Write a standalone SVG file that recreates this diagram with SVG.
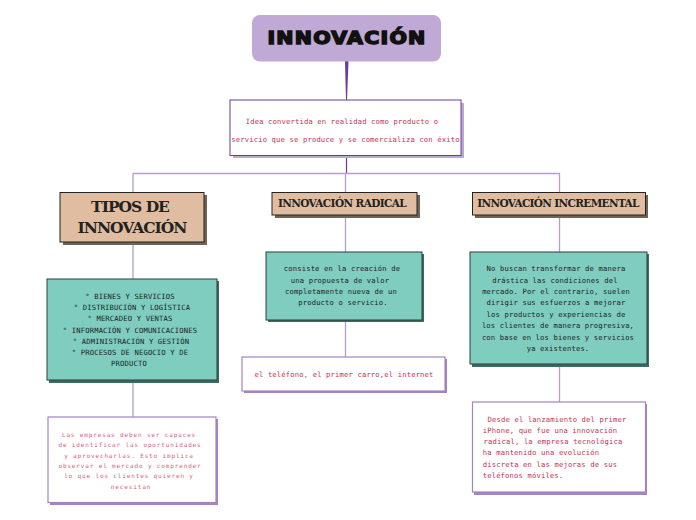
<svg xmlns="http://www.w3.org/2000/svg" width="696" height="520" viewBox="0 0 696 520">
<style>
.hd{fill:#e0bda0;stroke:#222;stroke-width:1}
.hds{fill:#6e6458}
.te{fill:#7ecdbf;stroke:#2a3f3b;stroke-width:1}
.tes{fill:#3f6a63}
.wh{fill:#fff;stroke:#a583c2;stroke-width:1.2}
.whs{fill:#a585c0}
.c{fill:none;stroke:#b89ccf;stroke-width:1.3}
text{text-anchor:middle}
.t{font-family:"DejaVu Sans Mono",monospace;font-size:7.2px;letter-spacing:.15px;fill:#222}
.r{font-family:"DejaVu Sans Mono",monospace;font-size:7.2px;letter-spacing:.15px;fill:#c8304f}
.p{font-family:"DejaVu Sans Mono",monospace;font-size:6px;letter-spacing:.86px;fill:#d9607a}
.h{font-family:"DejaVu Serif",serif;font-weight:bold;fill:#222}
</style>
<g id="connectors">
<path d="M345 61H348.500L347 100H346Z" fill="#6b3a9a"/>
<path d="M346.500 155V173" fill="none" stroke="#6b3a9a" stroke-width="1.2"/>
<path class="c" d="M133 193V173.500H559.500V192M345.500 173.500V192"/>
<path class="c" d="M133 242V279M133 380V417M345.500 215V252M345.500 320V357M559.500 215V252M559.500 364V402"/>
</g>
<g id="root">
<rect x="252" y="15" width="189" height="46.500" rx="8" fill="#c1a9d5"/>
<text transform="translate(347 43.500) scale(1.14 1)" font-family="'DejaVu Sans',sans-serif" font-weight="bold" font-size="18" letter-spacing="1.100" fill="#111" stroke="#111" stroke-width="1.500">INNOVACIÓN</text>
</g>
<g id="def">
<rect fill="#bda8d2" x="233" y="103" width="231" height="55"/>
<rect x="230" y="100" width="231" height="55.500" fill="#fff" stroke="#6b3a9a" stroke-width="1"/>
<text class="r" x="342" y="124">Idea convertida en realidad como producto o</text>
<text class="r" x="345.500" y="142">servicio que se produce y se comercializa con éxito</text>
</g>
<g id="tipos">
<rect class="hds" x="63" y="195" width="144" height="50"/>
<rect class="hd" x="60" y="192.500" width="144" height="49.500"/>
<text class="h" x="130" y="212" font-size="15.500" letter-spacing="-1">TIPOS DE</text>
<text class="h" x="132" y="233" font-size="15.500" letter-spacing="-1">INNOVACIÓN</text>
</g>
<g id="radical">
<rect class="hds" x="275" y="195" width="145" height="23"/>
<rect class="hd" x="272" y="192.500" width="145" height="22.500"/>
<text class="h" x="342" y="207" font-size="10.500" letter-spacing="-.6">INNOVACIÓN RADICAL</text>
</g>
<g id="incremental">
<rect class="hds" x="475" y="195" width="173" height="23"/>
<rect class="hd" x="472.500" y="192.500" width="173" height="22.500"/>
<text class="h" x="558" y="207" font-size="10.500" letter-spacing="-.65">INNOVACIÓN INCREMENTAL</text>
</g>
<g id="lista">
<rect class="tes" x="49" y="281" width="170" height="102"/>
<rect class="te" x="47" y="279" width="170" height="101"/>
<text class="t" x="130" y="299">° BIENES Y SERVICIOS</text>
<text class="t" x="132" y="310">° DISTRIBUCIÓN Y LOGÍSTICA</text>
<text class="t" x="130" y="321">° MERCADEO Y VENTAS</text>
<text class="t" x="130" y="333">° INFORMACIÓN Y COMUNICACIONES</text>
<text class="t" x="131" y="344">° ADMINISTRACIÓN Y GESTIÓN</text>
<text class="t" x="130" y="355">° PROCESOS DE NEGOCIO Y DE</text>
<text class="t" x="129" y="366">PRODUCTO</text>
</g>
<g id="empresas">
<rect class="whs" x="50" y="419" width="168" height="86"/>
<rect class="wh" x="48" y="417" width="168" height="85.500"/>
<text class="p" x="129" y="437">Las empresas deben ser capaces</text>
<text class="p" x="130" y="447">de identificar las oportunidades</text>
<text class="p" x="129" y="458">y aprovecharlas. Esto implica</text>
<text class="p" x="130" y="468">observar el mercado y comprender</text>
<text class="p" x="129" y="478">lo que los clientes quieren y</text>
<text class="p" x="131" y="489">necesitan</text>
</g>
<g id="consiste">
<rect class="tes" x="268" y="254" width="156" height="68"/>
<rect class="te" x="266" y="252" width="156" height="68"/>
<text class="t" x="342" y="271">consiste en la creación de</text>
<text class="t" x="340" y="283">una propuesta de valor</text>
<text class="t" x="341" y="294">completamente nueva de un</text>
<text class="t" x="343" y="305">producto o servicio.</text>
</g>
<g id="telefono">
<rect class="whs" x="244" y="359" width="203" height="34"/>
<rect class="wh" x="242" y="357" width="203" height="34"/>
<text class="r" x="344" y="377">el teléfono, el primer carro,el internet</text>
</g>
<g id="buscan">
<rect class="tes" x="472" y="254" width="177" height="113"/>
<rect class="te" x="470" y="252" width="177" height="112"/>
<text class="t" x="556" y="271">No buscan transformar de manera</text>
<text class="t" x="555" y="283">drástica las condiciones del</text>
<text class="t" x="556" y="294">mercado. Por el contrario, suelen</text>
<text class="t" x="556" y="305">dirigir sus esfuerzos a mejorar</text>
<text class="t" x="556" y="317">los productos y experiencias de</text>
<text class="t" x="558" y="328">los clientes de manera progresiva,</text>
<text class="t" x="558" y="340">con base en los bienes y servicios</text>
<text class="t" x="558" y="351">ya existentes.</text>
</g>
<g id="iphone">
<rect class="whs" x="474" y="404" width="173" height="91"/>
<rect class="wh" x="472.500" y="402" width="173" height="90"/>
<text class="r" x="557" y="422">Desde el lanzamiento del primer</text>
<text class="r" x="550" y="433">iPhone, que fue una innovación</text>
<text class="r" x="553" y="444">radical, la empresa tecnológica</text>
<text class="r" x="541" y="455">ha mantenido una evolución</text>
<text class="r" x="550" y="467">discreta en las mejoras de sus</text>
<text class="r" x="523" y="478">teléfonos móviles.</text>
</g>
</svg>
